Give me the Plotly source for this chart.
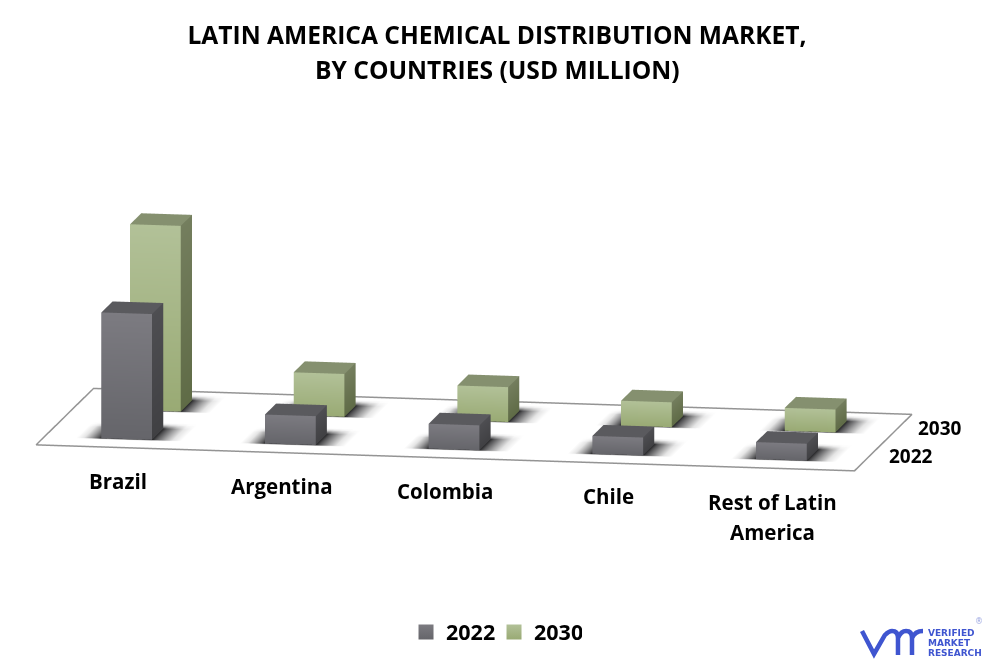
import plotly.graph_objects as go

categories = ["Brazil", "Argentina", "Colombia", "Chile", "Rest of Latin<br>America"]
years = ["2022", "2030"]
values_2022 = [126, 29, 25, 18, 17]
values_2030 = [186, 43, 35, 25, 23]

BAR_W = 0.31
BAR_D = 0.39
ZMAX = 200
ZOOM = 2.535  # orthographic scale comes from the aspect ratio, not the eye distance
PAD = 0.05  # keeps the floor outline off the clipping edge of the scene

FONT = "Open Sans"
W, H = 994, 668


def mix(c1, c2, t):
    return tuple(c1[i] + (c2[i] - c1[i]) * t for i in range(3))


def css(c):
    return "rgb(%d,%d,%d)" % (round(c[0]), round(c[1]), round(c[2]))


def bars(values, row, name, front_top, front_bot, side_top, side_bot, top):
    xs, ys, zs, cols, i, j, k = [], [], [], [], [], [], []

    def face(pts, colors):
        n = len(xs)
        for p, c in zip(pts, colors):
            xs.append(p[0])
            ys.append(p[1])
            zs.append(p[2])
            cols.append(css(c))
        i.extend([n, n])
        j.extend([n + 1, n + 2])
        k.extend([n + 2, n + 3])

    for c, v in enumerate(values):
        x0, x1 = c - BAR_W / 2, c + BAR_W / 2
        y0, y1 = row - BAR_D / 2, row + BAR_D / 2
        face([(x0, y0, 0), (x1, y0, 0), (x1, y0, v), (x0, y0, v)],
             [front_bot, front_bot, front_top, front_top])
        face([(x1, y0, 0), (x1, y1, 0), (x1, y1, v), (x1, y0, v)],
             [side_bot, side_bot, side_top, side_top])
        face([(x0, y0, v), (x1, y0, v), (x1, y1, v), (x0, y1, v)],
             [top, top, top, top])
    return go.Mesh3d(x=xs, y=ys, z=zs, i=i, j=j, k=k, vertexcolor=cols, name=name,
                     flatshading=True, hoverinfo="skip",
                     lighting=dict(ambient=1, diffuse=0, specular=0, fresnel=0, roughness=1))


def shadows(row):
    # soft patch on the floor around each bar, fades to the white of the page
    xs, ys, zs, cols, i, j, k = [], [], [], [], [], [], []
    fade = [0, 0.12, 0.45, 0.8, 1, 1, 0.8, 0.45, 0.12, 0]
    reach = [1, 0.7, 0.4, 0.12]
    dark = (40, 40, 42)
    white = (255, 255, 255)
    for c in range(len(categories)):
        x0, x1 = c - BAR_W / 2, c + BAR_W / 2
        y0, y1 = row - BAR_D / 2, row + BAR_D / 2
        gx = [x0 - 0.15 * r for r in reach] + [x0, x1] + [x1 + 0.18 * r for r in reversed(reach)]
        gy = [y0 - 0.04 * r for r in reach] + [y0, y1] + [y1 + 0.2 * r for r in reversed(reach)]
        n = len(xs)
        for a, yy in enumerate(gy):
            for b, xx in enumerate(gx):
                xs.append(xx)
                ys.append(yy)
                zs.append(0.1)
                cols.append(css(mix(white, dark, fade[b] * fade[a])))
        for a in range(9):
            for b in range(9):
                p = n + a * 10 + b
                i.extend([p, p])
                j.extend([p + 1, p + 11])
                k.extend([p + 11, p + 10])
    return go.Mesh3d(x=xs, y=ys, z=zs, i=i, j=j, k=k, vertexcolor=cols, hoverinfo="skip",
                     lighting=dict(ambient=1, diffuse=0, specular=0, fresnel=0, roughness=1))


def px(x, y):
    return "%.4f,%.4f" % (x / W, 1 - y / H)


fig = go.Figure()
fig.add_trace(shadows(0))
fig.add_trace(shadows(1))
fig.add_trace(bars(values_2022, 0, years[0], (124, 123, 129), (101, 101, 106), (78, 78, 82), (64, 64, 67), (90, 90, 94)))
fig.add_trace(bars(values_2030, 1, years[1], (178, 193, 152), (153, 170, 116), (116, 126, 94), (95, 107, 70), (133, 144, 111)))
fig.add_trace(go.Scatter3d(x=[-0.5, 4.5, 4.5, -0.5, -0.5], y=[-0.5, -0.5, 1.5, 1.5, -0.5], z=[0.3] * 5,
                           mode="lines", line=dict(color="#949494", width=3), hoverinfo="skip", showlegend=False))

# legend entries, the 3d traces have no swatch of their own
fig.add_trace(go.Scatter(x=[None], y=[None], mode="markers", name=years[0],
                         marker=dict(symbol="square", size=15, color="#7c7b81",
                                     gradient=dict(type="vertical", color="#65656a"))))
fig.add_trace(go.Scatter(x=[None], y=[None], mode="markers", name=years[1],
                         marker=dict(symbol="square", size=15, color="#b2c198",
                                     gradient=dict(type="vertical", color="#99aa74"))))

labels = []
for c, name in enumerate(categories):
    for n, part in enumerate(name.split("<br>")):
        labels.append(dict(x=c, y=-0.5, z=0, text=part, showarrow=False, yanchor="top", yshift=-17 - 30 * n,
                           font=dict(family=FONT, size=20.5, color="black", weight="bold")))
for r, year in enumerate(years):
    labels.append(dict(x=4.5, y=r, z=0, text=year, showarrow=False, xanchor="left", xshift=18, yshift=1,
                       font=dict(family=FONT, size=19, color="black", weight="bold")))

# logo, bottom right
logo = ("M " + px(862, 631) + " L " + px(874, 654) + " L " + px(885, 635)
        + " Q " + px(889, 631) + " " + px(892, 631) + " Q " + px(898, 631) + " " + px(898, 638)
        + " L " + px(898, 655) + " M " + px(898, 638) + " Q " + px(901, 631) + " " + px(906, 631)
        + " Q " + px(912, 631) + " " + px(912, 638) + " L " + px(912, 655)
        + " M " + px(912, 638) + " Q " + px(915, 631) + " " + px(923, 631))
logo_text = ["VERIFIED", "MARKET", "RESEARCH"]
notes = [dict(text=t, xref="paper", yref="paper", x=926 / W, y=1 - (633 + 10 * n) / H,
              xanchor="left", yanchor="middle", showarrow=False,
              font=dict(family="DejaVu Sans", size=9, color="#3f55d0", weight="bold"))
         for n, t in enumerate(logo_text)]
notes.append(dict(text="®", xref="paper", yref="paper", x=985 / W, y=1 - 628 / H, showarrow=False,
                  font=dict(family="DejaVu Sans", size=8, color="#9aa5e0")))
notes.append(dict(text="BY COUNTRIES (USD MILLION)", xref="paper", yref="paper", x=0.5, y=1 - 69 / H,
                  xanchor="center", yanchor="middle", showarrow=False,
                  font=dict(family=FONT, size=24.6, color="black", weight="bold")))

no_axis = dict(visible=False, showgrid=False, zeroline=False, showspikes=False)
eye = (0.1741, -0.9690, 0.1766)
fig.update_layout(
    width=W, height=H, autosize=False,
    paper_bgcolor="white", plot_bgcolor="white",
    margin=dict(l=0, r=0, t=0, b=0),
    title=dict(text="LATIN AMERICA CHEMICAL DISTRIBUTION MARKET,",
               x=0.5, xanchor="center", y=1 - 35 / H, yanchor="middle",
               font=dict(family=FONT, size=24.6, color="black", weight="bold")),
    showlegend=True,
    legend=dict(orientation="h", x=0.497, xanchor="center", y=0.054, yanchor="middle",
                itemsizing="trace", entrywidth=43, entrywidthmode="pixels",
                font=dict(family=FONT, size=21.5, color="black", weight="bold"),
                bgcolor="rgba(0,0,0,0)"),
    xaxis=dict(visible=False), yaxis=dict(visible=False),
    scene=dict(
        domain=dict(x=[0, 948 / W], y=[10 / H, 1 - 2 / H]),
        xaxis=dict(range=[-0.5 - PAD, 4.5 + PAD], **no_axis),
        yaxis=dict(range=[-0.5 - PAD, 1.5 + PAD], **no_axis),
        zaxis=dict(range=[0, ZMAX], **no_axis),
        aspectmode="manual",
        aspectratio=dict(x=ZOOM * (5 + 2 * PAD) / 5, y=0.3906 * ZOOM * (2 + 2 * PAD) / 2, z=0.2442 * ZOOM),
        camera=dict(projection=dict(type="orthographic"), up=dict(x=0, y=0, z=1), center=dict(x=0, y=0, z=0),
                    eye=dict(x=eye[0] * 2, y=eye[1] * 2, z=eye[2] * 2)),
        annotations=labels,
    ),
    annotations=notes,
    shapes=[dict(type="path", xref="paper", yref="paper", path=logo, line=dict(color="#3f55d0", width=4.5))],
)

fig.write_html("out.html", post_script="document.body.style.margin='0'", config={"displayModeBar": False})
